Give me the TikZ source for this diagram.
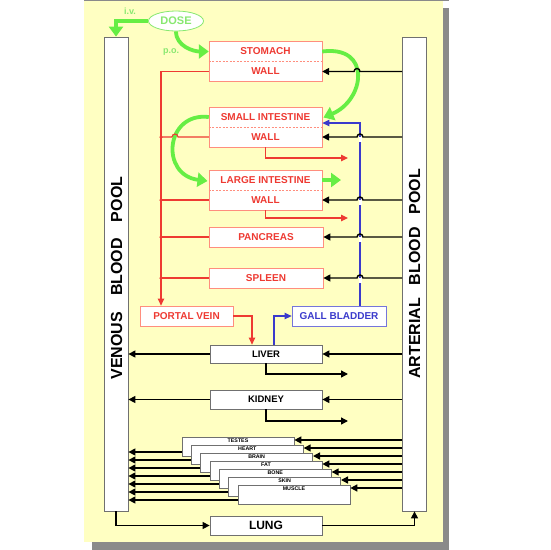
\documentclass[tikz,border=0pt]{standalone}
\usepackage{fontspec}
\setmainfont{Liberation Sans}
\usetikzlibrary{arrows.meta,calc,shapes.geometric}
\definecolor{bg}{HTML}{FFFFC2}
\definecolor{rd}{HTML}{EE3A32}
\definecolor{sal}{HTML}{FF8E7E}
\definecolor{gr}{HTML}{66EE44}
\definecolor{lgr}{HTML}{88E870}
\definecolor{bl}{HTML}{3A3ACC}
\definecolor{sh}{HTML}{8A8A8A}
\definecolor{bx}{HTML}{707070}
\begin{document}
\begin{tikzpicture}[x=1pt,y=-1pt,
  organ/.style={draw=sal,fill=white,line width=0.8pt,minimum width=113pt,minimum height=40pt,inner sep=0pt},
  half/.style={minimum width=113pt,minimum height=20pt,inner sep=0pt,text=rd,font=\bfseries\fontsize{10}{12}\selectfont},
  sbox/.style={draw=sal,fill=white,line width=0.8pt,minimum width=114pt,minimum height=20pt,inner sep=0pt,text=rd,font=\bfseries\fontsize{10}{12}\selectfont},
  kbox/.style={draw=bx,fill=white,line width=0.8pt,minimum width=112pt,minimum height=19pt,inner sep=0pt,font=\bfseries\fontsize{9.5}{11}\selectfont},
  pool/.style={draw=bx,fill=white,line width=0.8pt,minimum width=24pt,minimum height=474pt,inner sep=0pt},
  pooltxt/.style={font=\bfseries\fontsize{16}{18}\selectfont,inner sep=0pt},
  tissue/.style={draw=bx,fill=white,line width=0.7pt,minimum width=112pt,minimum height=19pt,inner sep=0pt},
  ttxt/.style={font=\bfseries\fontsize{5.3}{6}\selectfont,inner sep=0pt},
  arr/.style={line width=1.4pt,-{Triangle[length=7pt,width=7pt]}},
  rline/.style={rd,line width=1.1pt},
  rarr/.style={rd,line width=1.1pt,-{Triangle[length=7pt,width=6.5pt]}},
  barr/.style={bl,line width=1.2pt,-{Triangle[length=7pt,width=6.5pt]}},
  garr/.style={gr,line width=3.8pt,-{Triangle[length=10pt,width=14pt]}},
  dot/.style={circle,fill=rd,inner sep=0pt,minimum size=3.5pt}
]
\useasboundingbox (0,0) rectangle (550,550);
% panel with shadow
\fill[sh] (92,8) rectangle (449,550);
\fill[bg] (84,0) rectangle (443,541.5);
\fill[sh] (84,0) rectangle (449,1.2);

% pools
\node[pool] (ven) at (116,274) {};
\node[pool] (art) at (414.5,274) {};
\node[pooltxt,rotate=90] (venlab) at (116.5,278) {VENOUS\hspace{1em}BLOOD\hspace{1em}POOL};
\node[pooltxt,rotate=90] (artlab) at (414.5,274) {ARTERIAL\hspace{0.8em}BLOOD\hspace{0.8em}POOL};

% dose
\node[ellipse,draw=lgr,fill=white,line width=0.8pt,minimum width=55pt,minimum height=20pt,inner sep=0pt,text=lgr,font=\bfseries\fontsize{11}{12}\selectfont] (dose) at (176,21) {DOSE};
\node[text=lgr,font=\bfseries\fontsize{9}{10}\selectfont] (iv) at (130,11) {i.v.};
\node[text=lgr,font=\bfseries\fontsize{9}{10}\selectfont] (po) at (171,52) {p.o.};

% organs with walls
\node[organ] (stomach) at (265.5,61.5) {};
\node[half] (sto) at (265.5,51.5) {STOMACH};
\node[half] (stw) at (265.5,71.5) {WALL};
\draw[sal,line width=0.6pt,dash pattern=on 2pt off 1.5pt] (stomach.west) -- (stomach.east);
\node[organ] (si) at (265.5,127) {};
\node[half] (sih) at (265.5,117) {SMALL INTESTINE};
\node[half] (siw) at (265.5,137) {WALL};
\draw[sal,line width=0.6pt,dash pattern=on 2pt off 1.5pt] (si.west) -- (si.east);
\node[organ] (li) at (265.5,190) {};
\node[half] (lih) at (265.5,180) {LARGE INTESTINE};
\node[half] (liw) at (265.5,200) {WALL};
\draw[sal,line width=0.6pt,dash pattern=on 2pt off 1.5pt] (li.west) -- (li.east);
\node[sbox] (pan) at (266,237) {PANCREAS};
\node[sbox] (spl) at (266,278) {SPLEEN};
\node[sbox,minimum width=93pt] (pv) at (186.5,316) {PORTAL VEIN};
\node[sbox,draw=bl!70,text=bl,minimum width=94pt] (gb) at (339,316) {GALL BLADDER};
\node[kbox,minimum height=18pt] (liver) at (266,354) {LIVER};
\node[kbox] (kid) at (266,399.5) {KIDNEY};
\node[kbox,font=\bfseries\fontsize{12}{14}\selectfont] (lung) at (266,525.5) {LUNG};

% green dose routes
\draw[garr,line width=3.2pt] (dose.west) -| (ven.north);
\draw[garr] (dose.south) to[out=-90,in=180] (sto.west);
\draw[garr] (sto.east) .. controls (372,45) and (365,100) .. (323.5,117.5);
\draw[garr] (sih.west) .. controls (165,112) and (160,175) .. (207.5,181);
\coordinate (liend) at (341,180);
\draw[garr] (lih.east) -- (liend);

% red venous drainage
\coordinate (rv) at (161,71.5);
\draw[rarr] (stw.west) -| (pv.north -| rv);
\draw[rline] (siw.west) -- (178,137) arc[start angle=0,end angle=180,radius=3pt] -- (rv |- siw.west);
\draw[rline] (liw.west) -- (rv |- liw.west);
\draw[rline] (pan.west) -- (rv |- pan.west);
\draw[rline] (spl.west) -- (rv |- spl.west);
\foreach \o in {siw,liw,pan,spl} \node[dot] at (rv |- \o.west) {};
\coordinate (siout) at (348,158);
\coordinate (liout) at (348,218);
\draw[rarr] (siw.south) |- (siout);
\draw[rarr] (liw.south) |- (liout);
\coordinate (pvl) at (252,316);
\draw[rarr] (pv.east) -| (liver.north -| pvl);

% blue bile
\coordinate (bs) at (274,345);
\coordinate (bj) at (360,123);
\draw[barr] (liver.north -| bs) |- (gb.west);
\draw[barr] (gb.north -| bj) |- (si.east |- bj);

% arterial supply
\draw[arr] (art.west |- stw.east) -- (360,71.5) arc[start angle=0,end angle=180,radius=3pt] -- (stw.east);
\foreach \o in {siw,liw,pan,spl} {
  \fill[white] ($(bj |- \o.east)+(-1.5,-0.5)$) rectangle ($(bj |- \o.east)+(1.5,5)$);
  \draw[arr] (art.west |- \o.east) -- ($(bj |- \o.east)+(3,0)$) arc[start angle=0,end angle=180,radius=3pt] -- (\o.east);
}
\draw[arr] (art.west |- liver.east) -- (liver.east);
\draw[arr] (art.west |- kid.east) -- (kid.east);
\draw[arr] (liver.west) -- (ven.east |- liver.west);
\draw[arr] (kid.west) -- (ven.east |- kid.west);
\coordinate (lvout) at (348,374);
\coordinate (kdout) at (348,421);
\draw[arr] (liver.south) |- (lvout);
\draw[arr] (kid.south) |- (kdout);

% tissues
\foreach \n/\t [count=\k from 0] in {tes/TESTES,hea/HEART,bra/BRAIN,fat/FAT,bon/BONE,ski/SKIN,mus/MUSCLE} {
  \node[tissue] (\n) at ({238+9.33*\k},{446.5+8*\k}) {};
  \node[ttxt,anchor=north] (lab\n) at ($(\n.north)+(0,2.2)$) {\t};
  \coordinate (in\n) at ($(\n.east)+(0,-6.5)$);
  \coordinate (out\n) at ($(\n.west)+(0,5.5)$);
  \draw[arr] (art.west |- in\n) -- (in\n);
  \draw[arr] (out\n) -- (ven.east |- out\n);
}

% lung loop
\draw[arr] (ven.south) |- (lung.west);
\draw[arr] (lung.east) -| (art.south);
\end{tikzpicture}
\end{document}
